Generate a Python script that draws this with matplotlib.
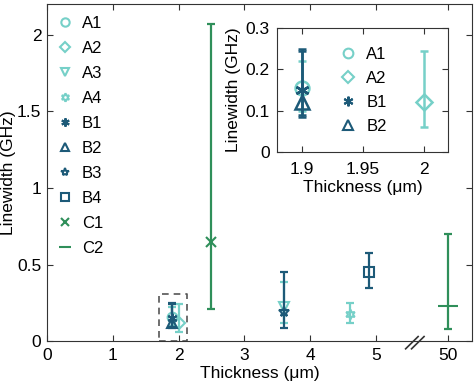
import matplotlib
matplotlib.use('Agg')
import matplotlib.pyplot as plt
from matplotlib.lines import Line2D
import numpy as np

plt.rcParams['font.family'] = ['Liberation Sans', 'DejaVu Sans']
plt.rcParams['font.size'] = 12.5

# data: name, thickness (um), linewidth (GHz), lower / upper end of error bar
names = ['A1', 'A2', 'A3', 'A4', 'B1', 'B2', 'B3', 'B4', 'C1', 'C2']
thick = [1.9, 2.0, 3.6, 4.6, 1.9, 1.9, 3.6, 4.9, 2.5, 50]
lw_val = [0.155, 0.12, 0.22, 0.18, 0.15, 0.12, 0.19, 0.45, 0.65, 0.23]
lw_lo = [0.10, 0.06, 0.12, 0.12, 0.09, 0.085, 0.085, 0.35, 0.21, 0.08]
lw_hi = [0.22, 0.245, 0.385, 0.25, 0.25, 0.245, 0.45, 0.575, 2.07, 0.70]
# o circle, D diamond, v down tri, hexagram, asterisk, up tri, pentagram, square, x, dash
markers = ['o', 'D', 'v', (6, 1, 0), (6, 2, 0), '^', '*', 's', 'x', '_']

cA = '#76d0c8'
cB = '#1d5a78'
cC = '#2f8f5a'
colors = [cA, cA, cA, cA, cB, cB, cB, cB, cC, cC]

xtick_pos = [0, 1, 2, 3, 4, 5, 6.09]
xtick_lab = ['0', '1', '2', '3', '4', '5', '50']

def xpos(t):
    # broken axis: 50 um is drawn at 6.09
    return 6.09 if t == 50 else t

def msize(m, base):
    if m == '_':
        return base * 2
    if m == 'D':
        return base * 0.85
    return base

fig = plt.figure(figsize=(4.74, 3.89), dpi=100)
ax = fig.add_axes([0.099, 0.123, 0.897, 0.866])

handles = []
for i in range(len(names)):
    x = xpos(thick[i])
    y = lw_val[i]
    ax.errorbar([x], [y], yerr=[[y - lw_lo[i]], [lw_hi[i] - y]],
                fmt='none', ecolor=colors[i], capsize=3, elinewidth=1.6, capthick=1.6)
    ax.plot([x], [y], linestyle='none', marker=markers[i], color=colors[i],
            mfc='none', mew=1.5, ms=msize(markers[i], 7))
    hs = 8 if markers[i] == '_' else msize(markers[i], 6)
    handles.append(Line2D([], [], linestyle='none', marker=markers[i], color=colors[i],
                          mfc='none', mew=1.5, ms=hs))

ax.legend(handles, names, loc='upper left', frameon=False, fontsize=12,
          labelspacing=0.6, handlelength=1.0, handletextpad=0.5,
          borderaxespad=0.2, bbox_to_anchor=(0.0, 0.995))

# dashed box around inset region
ax.plot([1.7, 2.13, 2.13, 1.7, 1.7], [0.0, 0.0, 0.31, 0.31, 0.0],
        linestyle=(0, (4, 3)), color='#555555', lw=1.2)

ax.set_xlim(0, 6.46)
ax.set_ylim(0, 2.2)
ax.set_xticks(xtick_pos)
ax.set_xticklabels(xtick_lab)
ax.set_yticks([0, 0.5, 1, 1.5, 2])
ax.set_yticklabels(['0', '0.5', '1', '1.5', '2'])
ax.tick_params(direction='in', top=True, right=True, length=4, color='#333333')
ax.tick_params(axis='x', pad=5)
ax.tick_params(axis='y', pad=4)
for s in ax.spines.values():
    s.set_color('#333333')
ax.set_xlabel('Thickness (μm)', labelpad=2)
ax.set_ylabel('Linewidth (GHz)', labelpad=1)

# axis break marks
for dx in [0, 0.09]:
    ax.plot([5.45 + dx, 5.64 + dx], [-0.05, 0.03], color='#333333', lw=1.2, clip_on=False)

# inset
ins = fig.add_axes([0.584, 0.609, 0.361, 0.319])
ins_handles = []
for i in [0, 1, 4, 5]:
    x = thick[i]
    y = lw_val[i]
    ins.errorbar([x], [y], yerr=[[y - lw_lo[i]], [lw_hi[i] - y]],
                 fmt='none', ecolor=colors[i], capsize=3, elinewidth=1.8, capthick=1.8)
    ins.plot([x], [y], linestyle='none', marker=markers[i], color=colors[i],
             mfc='none', mew=1.8, ms=msize(markers[i], 10))
    ins_handles.append(Line2D([], [], linestyle='none', marker=markers[i], color=colors[i],
                              mfc='none', mew=1.5, ms=msize(markers[i], 7)))
ins.legend(ins_handles, [names[i] for i in [0, 1, 4, 5]], loc='upper left',
           bbox_to_anchor=(0.28, 0.97), frameon=False, fontsize=12,
           labelspacing=0.55, handlelength=1.0, handletextpad=0.6)
ins.set_xlim(1.8795, 2.02)
ins.set_ylim(0, 0.3)
ins.set_xticks([1.9, 1.95, 2])
ins.set_xticklabels(['1.9', '1.95', '2'])
ins.set_yticks([0, 0.1, 0.2, 0.3])
ins.set_yticklabels(['0', '0.1', '0.2', '0.3'])
ins.tick_params(direction='in', top=True, right=True, length=4, color='#333333')
ins.tick_params(axis='x', pad=7)
ins.tick_params(axis='y', pad=5)
for s in ins.spines.values():
    s.set_color('#333333')
ins.set_xlabel('Thickness (μm)', labelpad=2)
ins.set_ylabel('Linewidth (GHz)', labelpad=3)

fig.savefig('out.png', dpi=100)
